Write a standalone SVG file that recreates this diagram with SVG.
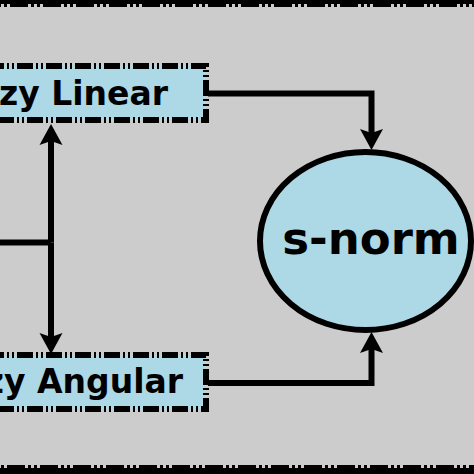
<svg xmlns="http://www.w3.org/2000/svg" width="474" height="474" viewBox="0 0 474 474">
<style>
.box{fill:#add8e6;stroke:#000;stroke-width:6;stroke-dasharray:16,3,2,3,2,3}
.lbl{font-family:"DejaVu Sans",sans-serif;font-weight:bold;fill:#000}
.con{fill:none;stroke:#000;stroke-width:6}
</style>
<defs>
<marker id="ah" markerUnits="userSpaceOnUse" markerWidth="40" markerHeight="40" refX="0" refY="0" orient="auto" overflow="visible">
<path d="M16,0 L-5,-11.5 L-1,0 L-5,11.5 z" fill="#000"/>
</marker>
</defs>
<rect x="0" y="0" width="474" height="474" fill="#cccccc"/>
<g id="frame">
<rect x="0" y="0" width="474" height="4" fill="#000"/>
<line x1="0" y1="5.5" x2="474" y2="5.5" stroke="#000" stroke-width="3" stroke-dasharray="18,3,3,3,3,3" stroke-dashoffset="-10"/>
<rect x="0" y="468" width="474" height="6" fill="#000"/>
<line x1="0" y1="466.5" x2="474" y2="466.5" stroke="#000" stroke-width="3" stroke-dasharray="18,3,3,3,3,3" stroke-dashoffset="-7"/>
</g>
<g id="connectors">
<path class="con" d="M0,242.5 H51"/>
<path class="con" d="M51,242.5 V140" marker-end="url(#ah)"/>
<path class="con" d="M51,242.5 V338" marker-end="url(#ah)"/>
<path class="con" d="M208,93.5 H371.5 V134" marker-end="url(#ah)"/>
<path class="con" d="M208,383 H371.5 V348" marker-end="url(#ah)"/>
</g>
<g id="fuzzy-linear">
<rect class="box" x="-70" y="66" width="276" height="54"/>
<text class="lbl" x="168" y="105" font-size="33" text-anchor="end">Fuzzy Linear</text>
</g>
<g id="fuzzy-angular">
<rect class="box" x="-70" y="355" width="276" height="54"/>
<text class="lbl" x="183" y="393" font-size="33" text-anchor="end">Fuzzy Angular</text>
</g>
<g id="s-norm">
<ellipse cx="365.5" cy="241" rx="105.5" ry="89" fill="#add8e6" stroke="#000" stroke-width="6"/>
<text class="lbl" x="371" y="254" font-size="45" text-anchor="middle">s-norm</text>
</g>
</svg>
